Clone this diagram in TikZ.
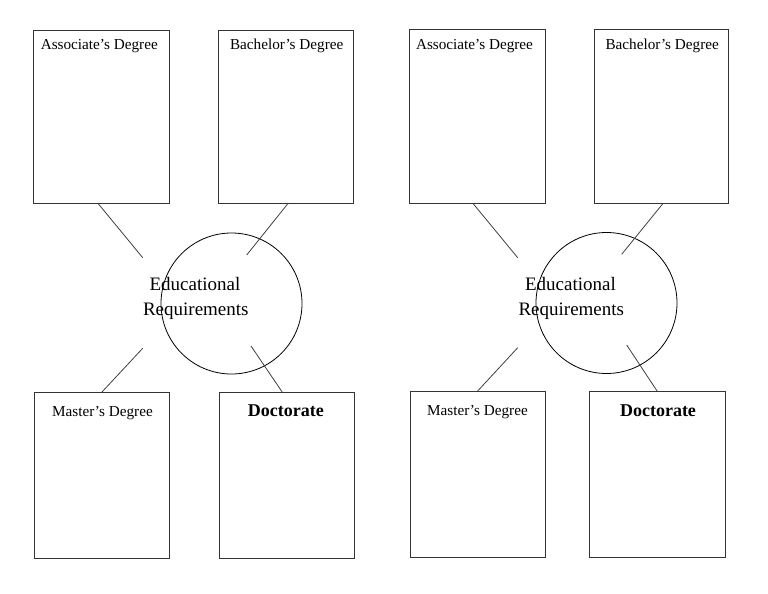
\documentclass[tikz,border=0pt]{standalone}
\usepackage{fontspec}
\setmainfont{Liberation Serif}
\begin{document}
\begin{tikzpicture}[x=1pt,y=-1pt,
  degbox/.style={draw=black!80, line width=1pt, inner sep=0pt, minimum width=135pt, fill=white},
  hub/.style={draw=black, line width=0.8pt, circle, inner sep=0pt, minimum size=141pt},
  link/.style={draw=black!75, line width=0.8pt},
  lbl/.style={anchor=base, inner sep=0pt, font=\fontsize{15.2}{17}\selectfont},
  biglbl/.style={anchor=base, inner sep=0pt, font=\bfseries\fontsize{18}{20}\selectfont},
  hubtxt/.style={anchor=base, inner sep=0pt, font=\fontsize{19}{22}\selectfont}]
\useasboundingbox[fill=white] (0,0) rectangle (768,594);
% ---------- left panel ----------
\node[degbox, minimum width=135.8pt, minimum height=173.3pt] (A1) at (101.4,116.7) {};
\node[degbox, minimum width=134.5pt, minimum height=173.3pt] (B1) at (286.2,116.7) {};
\node[degbox, minimum width=135pt, minimum height=166pt] (M1) at (101.8,475.7) {};
\node[degbox, minimum width=135.3pt, minimum height=166pt] (D1) at (286.7,475.7) {};
\node[hub] (C1) at (231.5,303.5) {};
\node[lbl] (A1t) at (99.3,50) {Associate's Degree};
\node[lbl] (B1t) at (286.7,50) {Bachelor's Degree};
\node[lbl] (M1t) at (102.5,416) {Master's Degree};
\node[biglbl] (D1t) at (285.8,416.5) {Doctorate};
\node[hubtxt] (E1) at (195,290) {Educational};
\node[hubtxt] (R1) at (195.8,315) {Requirements};
\coordinate (a1e) at (142.7,257.7);
\coordinate (b1e) at (246.7,255);
\coordinate (m1e) at (142.7,348.3);
\coordinate (d1e) at (251,346);
\draw[link] ([xshift=-3pt]A1.south) -- (a1e);
\draw[link] ([xshift=1.5pt]B1.south) -- (b1e);
\draw[link] (M1.north) -- (m1e);
\draw[link] ([xshift=-4.4pt]D1.north) -- (d1e);
% ---------- right panel ----------
\node[degbox, minimum width=136pt, minimum height=174pt] (A2) at (477,116.3) {};
\node[degbox, minimum width=134pt, minimum height=174pt] (B2) at (661.3,116.3) {};
\node[degbox, minimum width=135pt, minimum height=166pt] (M2) at (477.5,474.7) {};
\node[degbox, minimum width=135.7pt, minimum height=166pt] (D2) at (657.2,474.7) {};
\node[hub] (C2) at (606.5,303) {};
\node[lbl] (A2t) at (474.5,49) {Associate's Degree};
\node[lbl] (B2t) at (662.2,49) {Bachelor's Degree};
\node[lbl] (M2t) at (477.5,415) {Master's Degree};
\node[biglbl] (D2t) at (658,416.5) {Doctorate};
\node[hubtxt] (E2) at (570.5,290) {Educational};
\node[hubtxt] (R2) at (571.3,315) {Requirements};
\coordinate (a2e) at (517.7,257.7);
\coordinate (b2e) at (621.7,254.3);
\coordinate (m2e) at (517.7,347.7);
\coordinate (d2e) at (626.7,345);
\draw[link] ([xshift=-3.7pt]A2.south) -- (a2e);
\draw[link] ([xshift=1.4pt]B2.south) -- (b2e);
\draw[link] (M2.north) -- (m2e);
\draw[link] (D2.north) -- (d2e);
\end{tikzpicture}
\end{document}
